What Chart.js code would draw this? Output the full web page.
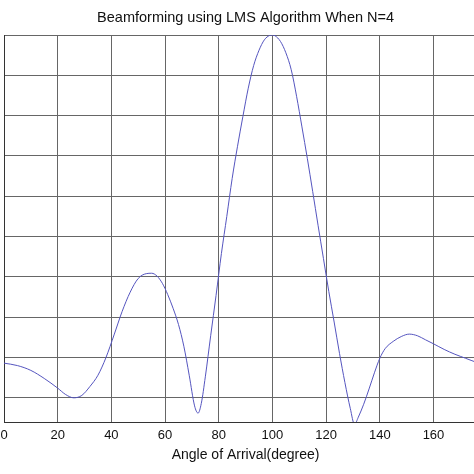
<!DOCTYPE html>
<html>
<head>
<meta charset="utf-8">
<script src="https://cdn.jsdelivr.net/npm/chart.js@4"></script>
<style>
  html, body { margin: 0; padding: 0; background: #fff; overflow: hidden; }
  #wrap { position: absolute; left: -56px; top: 0; width: 560px; height: 474px; }
</style>
</head>
<body>
<div id="wrap"><canvas id="beam" width="560" height="474"></canvas></div>
<script>
// angle of arrival (deg) and array response (dB)
const angles = [
  0, 5, 10, 15, 20, 23, 26, 29, 32, 35, 38, 41, 44, 47, 50, 53, 55, 57, 59, 61,
  63, 65, 67, 69, 71, 72.3, 73.5, 75, 77, 79, 81, 83, 85, 87, 89, 91, 93, 95,
  97, 99, 100, 101, 103, 105, 107, 109, 111, 113, 115, 117, 119, 121, 123, 125,
  127, 129, 130.6, 132, 134, 136, 138, 140, 142, 145, 148, 151, 154, 157, 160,
  164, 168, 172, 176, 180,
];
const gain = [
  -40.7, -41.0, -41.6, -42.6, -43.8, -44.6, -45.0, -44.7, -43.6, -42.2, -40.0,
  -37.2, -34.3, -31.9, -30.2, -29.6, -29.55, -29.9, -30.8, -32.2, -33.9, -35.9,
  -38.6, -42.2, -46.0, -46.9, -45.7, -42.4, -37.3, -32.3, -27.1, -22.5, -17.8,
  -13.8, -10.1, -6.6, -3.8, -1.9, -0.6, -0.05, 0, -0.1, -0.8, -2.2, -4.3, -7.6,
  -11.4, -15.3, -19.4, -23.6, -27.7, -31.8, -35.6, -39.5, -43.1, -46.3, -48.3,
  -47.4, -45.8, -43.9, -41.9, -40.1, -38.9, -38.0, -37.4, -37.1, -37.3, -37.8,
  -38.3, -39.0, -39.6, -40.1, -40.6, -41.0,
];
const xTicks = [0, 20, 40, 60, 80, 100, 120, 140, 160, 180];

const points = angles.map((a, i) => ({ x: a, y: gain[i] }));

const ctx = document.getElementById('beam').getContext('2d');

new Chart(ctx, {
  type: 'line',
  data: {
    datasets: [
      {
        data: points,
        borderColor: '#5555bf',
        borderWidth: 1,
        pointRadius: 0,
        fill: false,
        cubicInterpolationMode: 'monotone',
      },
    ],
  },
  options: {
    responsive: false,
    animation: false,
    layout: { padding: { left: 0, right: 12, top: 0, bottom: 0 } },
    plugins: {
      legend: { display: false },
      tooltip: { enabled: false },
      title: {
        display: true,
        text: 'Beamforming using LMS Algorithm When N=4',
        fullSize: false,
        color: '#111',
        font: { family: 'Liberation Sans', size: 14.5, weight: 'normal' },
        padding: { top: 9.3, bottom: 8.3 },
      },
    },
    scales: {
      x: {
        type: 'linear',
        min: 0,
        max: 180,
        afterBuildTicks: (scale) => {
          scale.ticks = xTicks.map((v) => ({ value: v }));
        },
        afterFit: (scale) => {
          scale.height = 52;
        },
        grid: { color: '#666', lineWidth: 1, drawTicks: false },
        border: { color: '#333', width: 1 },
        ticks: {
          color: '#111',
          padding: 6,
          font: { family: 'Liberation Sans', size: 13 },
        },
        title: {
          display: true,
          text: 'Angle of Arrival(degree)',
          color: '#111',
          font: { family: 'Liberation Sans', size: 14 },
          padding: { top: 0, bottom: 10.5 },
        },
      },
      y: {
        min: -48,
        max: 0,
        ticks: { display: false, stepSize: 5 },
        afterFit: (scale) => {
          scale.width = 60;
        },
        grid: { color: '#666', lineWidth: 1, drawTicks: false },
        border: { color: '#333', width: 1 },
      },
    },
  },
});
</script>
</body>
</html>
